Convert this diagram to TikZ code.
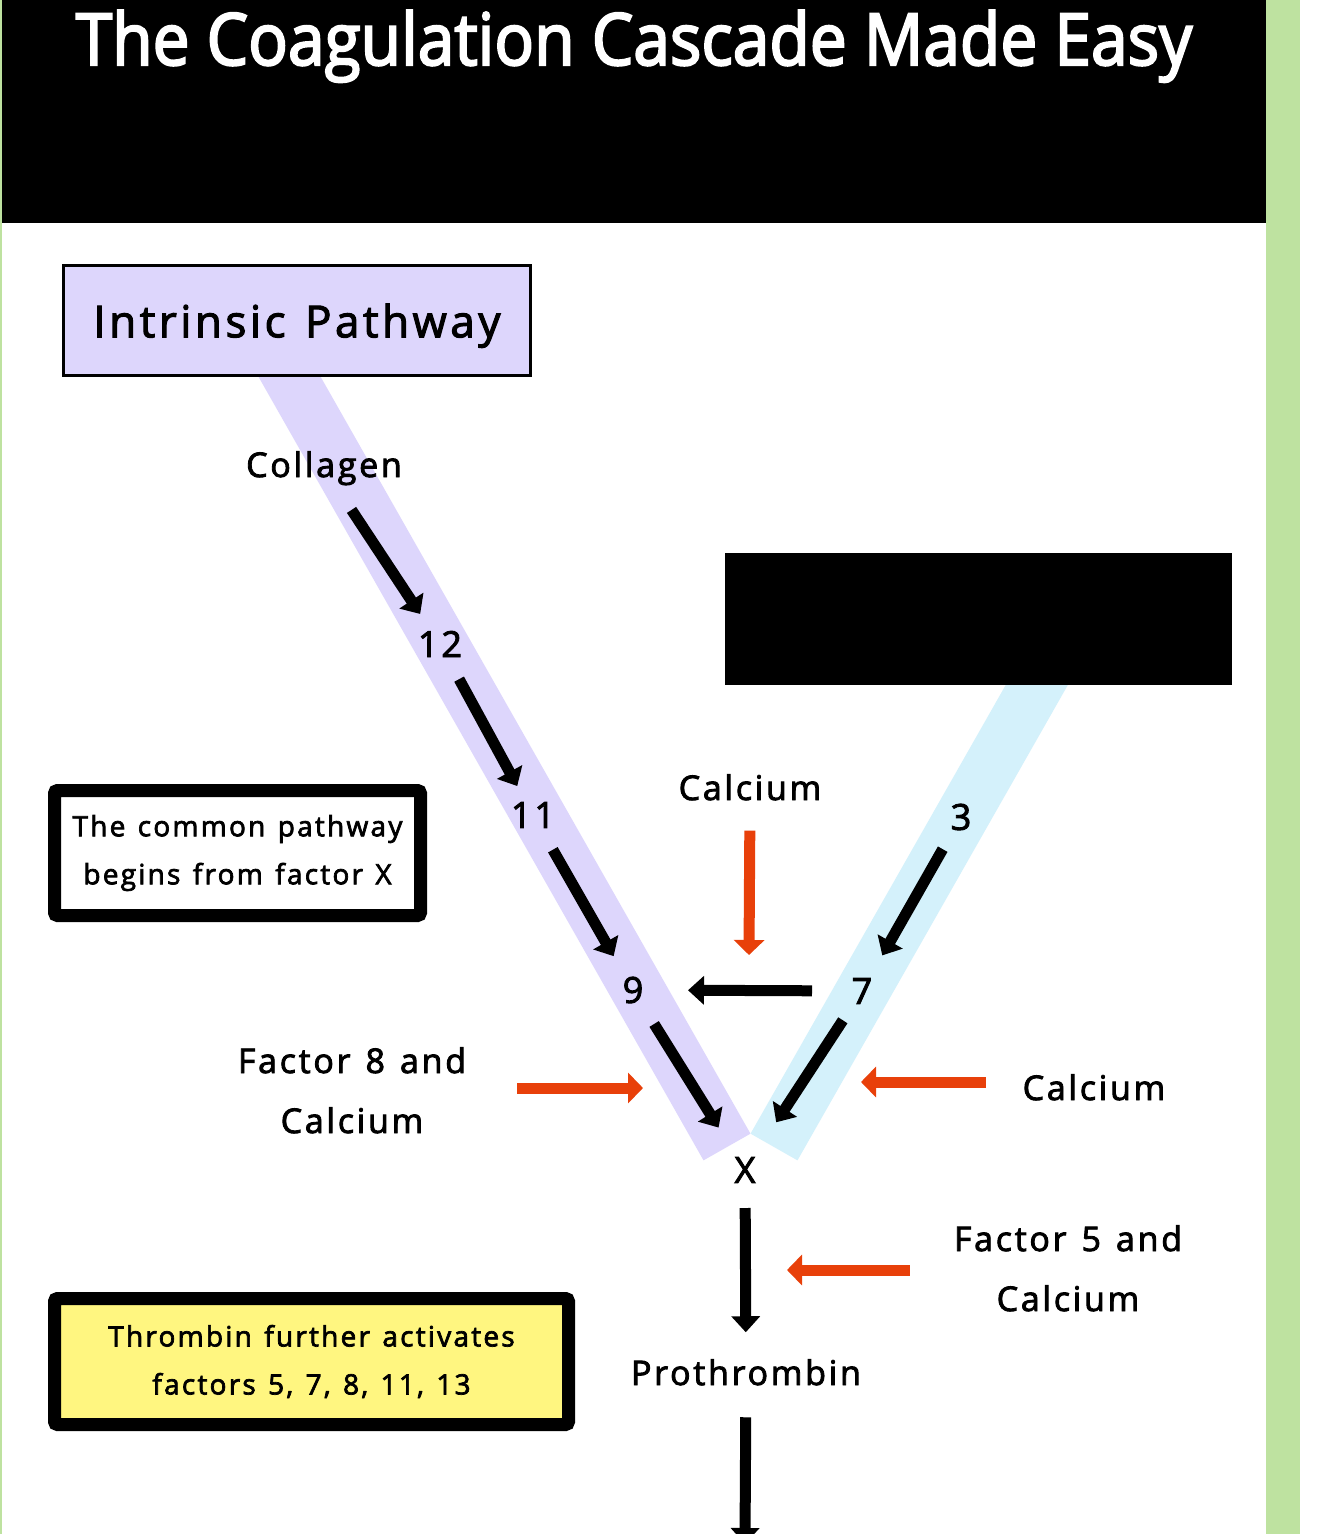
\documentclass[tikz,border=0pt]{standalone}
\usepackage{fontspec}
\usepackage{graphicx}
\setmainfont[LetterSpace=8, WordSpace=1.3, FakeBold=2.5]{Open Sans}
\newfontfamily\titlefont[FakeBold=3]{Open Sans}
\usetikzlibrary{arrows.meta}

\definecolor{lavender}{RGB}{221,214,252}
\definecolor{skyband}{RGB}{212,241,251}
\definecolor{leafgreen}{RGB}{190,226,160}
\definecolor{sunyellow}{RGB}{255,246,128}
\definecolor{calred}{RGB}{232,64,10}

\tikzset{
  lbl/.style={inner sep=0pt, font=\fontsize{34}{60}\selectfont},
  num/.style={inner sep=0pt, font=\fontsize{36}{40}\selectfont},
  band/.style={line width=54pt},
  blkarrow/.style={line width=11pt, -{Triangle[length=16pt,width=28pt]}},
  redarrow/.style={calred, line width=11pt, -{Triangle[length=15pt,width=30pt]}},
  notebox/.style={draw, line width=13pt, rounded corners=3pt, align=center, inner sep=0pt, font=\fontsize{28}{48}\selectfont}
}

\begin{document}
\begin{tikzpicture}[x=1pt, y=-1pt]
    \useasboundingbox (0,0) rectangle (1330,1534);
    \clip (0,0) rectangle (1330,1534);
    \fill[white] (0,0) rectangle (1330,1534);
    % frame and header
    \fill[leafgreen] (0,0) rectangle (2,1534);
    \fill[leafgreen] (1266,0) rectangle (1300,1534);
    \fill[black] (2,0) rectangle (1266,223);
    \node[anchor=base, inner sep=0pt, white, font=\titlefont\fontsize{72}{80}\selectfont] (title) at (634,65) {\scalebox{0.915}[1]{The Coagulation Cascade Made Easy}};

    % the two pathways
    \draw[lavender, band] (263,330) -- (727,1147);
    \draw[skyband, band] (1051,660) -- (774,1147);
    \node[draw, line width=3pt, fill=lavender, minimum width=467pt, minimum height=110pt, inner sep=0pt, text depth=0pt, font=\fontsize{44}{50}\selectfont] (intrinsic) at (297,320.5) {Intrinsic Pathway};
    \fill[black] (725,553) rectangle (1232,685);

    % factors
    \node[lbl, anchor=base] (collagen) at (324,477) {Collagen};
    \node[num] (f12) at (440,644) {12};
    \node[num] (f11) at (533,815) {11};
    \node[num] (f9) at (633,990) {9};
    \node[num] (f3) at (961,817) {3};
    \node[num] (f7) at (862,991) {7};
    \node[num] (fx) at (745,1170) {X};
    \node[lbl, anchor=base] (proth) at (746,1385) {Prothrombin};
    \coordinate (pend) at (745,1544);

    % cofactors
    \node[lbl, anchor=base] (ca1) at (750,800) {Calcium};
    \node[lbl, anchor=base] (ca2) at (1094,1100) {Calcium};
    \node[lbl, anchor=base, align=center] (f8) at (352,1133) {Factor 8 and\\Calcium};
    \node[lbl, anchor=base, align=center] (f5) at (1068,1311) {Factor 5 and\\Calcium};
    \coordinate (r1) at (749,955);
    \coordinate (r8) at (643,1088);
    \coordinate (r2) at (861,1082);
    \coordinate (r5) at (787,1270);

    % notes
    \node[notebox, fill=white, minimum width=366pt, minimum height=125pt] (common) at (237.5,853) {The common pathway\\begins from factor X};
    \node[notebox, fill=sunyellow, minimum width=514pt, minimum height=126pt] (thrombin) at (311.5,1361.5) {Thrombin further activates\\factors 5, 7, 8, 11, 13};

    % cascade
    \draw[blkarrow, shorten <=50pt, shorten >=36pt] (collagen.center) -- (f12.center);
    \draw[blkarrow, shorten <=40pt, shorten >=33pt] (f12.center) -- (f11.center);
    \draw[blkarrow, shorten <=40pt, shorten >=39pt] (f11.center) -- (f9.center);
    \draw[blkarrow, shorten <=40pt, shorten >=50pt] (f9.center) -- (fx.center);
    \draw[blkarrow, shorten <=37pt, shorten >=41pt] (f3.center) -- (f7.center);
    \draw[blkarrow, shorten <=35pt, shorten >=57pt] (f7.center) -- (fx.center);
    \draw[blkarrow, shorten <=50pt, shorten >=55pt] (f7.center) -- (f9.center);
    \draw[blkarrow, shorten <=38pt, shorten >=40pt] (fx.center) -- (proth.center);
    \draw[blkarrow, shorten <=45pt] (proth.center) -- (pend);

    \draw[redarrow, shorten <=30pt] (ca1.south) -- (r1);
    \draw[redarrow, shorten <=51pt] (f8.east |- r8) -- (r8);
    \draw[redarrow, shorten <=37pt] (ca2.west |- r2) -- (r2);
    \draw[redarrow, shorten <=44pt] (f5.west |- r5) -- (r5);
\end{tikzpicture}
\end{document}
